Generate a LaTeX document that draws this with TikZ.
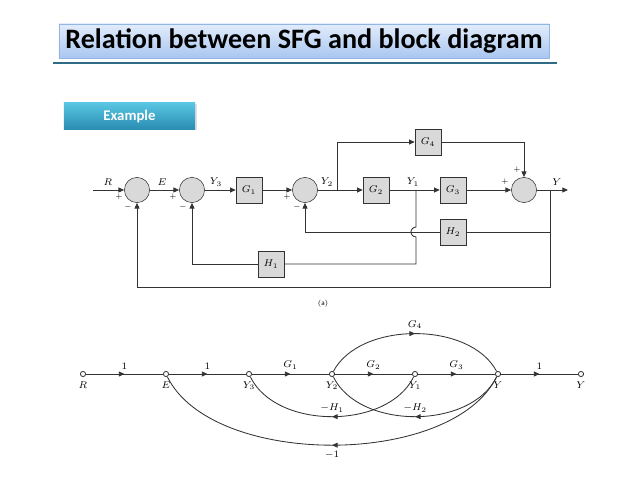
\documentclass[tikz,border=0pt]{standalone}
\usepackage{fontspec}
\setmainfont{Carlito}
\usepackage{xcolor}
\usetikzlibrary{arrows.meta, positioning, decorations.markings, shadows}

\definecolor{titletop}{HTML}{E2ECFB}
\definecolor{titlebot}{HTML}{A9C6F1}
\definecolor{titleedge}{HTML}{93B5E4}
\definecolor{rulecol}{HTML}{2E6C86}
\definecolor{extop}{HTML}{58C5E2}
\definecolor{exbot}{HTML}{2A8DB2}

\begin{document}
\begin{tikzpicture}[x=0.025cm, y=-0.025cm,
    titlebox/.style={draw=titleedge, top color=titletop, bottom color=titlebot,
                     minimum width=12.25cm, minimum height=0.85cm,
                     font=\fontsize{20}{23}\selectfont\bfseries},
    exbox/.style={top color=extop, bottom color=exbot, text=white,
                  minimum width=3.28cm, minimum height=0.65cm,
                  font=\fontsize{10.5}{12}\selectfont\bfseries,
                  drop shadow={opacity=0.25, shadow xshift=1pt, shadow yshift=-1pt}},
    blk/.style={draw=black!80, fill=black!15, minimum size=0.65cm,
                inner sep=0pt, font=\scriptsize},
    sumj/.style={circle, draw=black!80, fill=black!15, minimum size=0.63cm, inner sep=0pt},
    wire/.style={draw=black!80, line width=0.6pt},
    sig/.style={wire, -{Triangle[length=4pt,width=3.5pt]}},
    lab/.style={font=\scriptsize, inner sep=1pt},
    sgn/.style={font=\tiny, inner sep=0pt},
    sfgn/.style={circle, draw=black!80, fill=white, line width=0.6pt,
                 minimum size=0.13cm, inner sep=0pt},
    br/.style={wire, postaction={decorate},
               decoration={markings, mark=at position 0.5 with
                 {\arrow{Triangle[length=4pt,width=3.5pt]}}}}
  ]
    \useasboundingbox (0,0) rectangle (638,478);

    % heading
    \node[titlebox] (title) at (304,41) {Relation between SFG and block diagram};
    \draw[rulecol, line width=1.4pt] (53,63) -- (557,63);
    \node[exbox] (example) at (129.5,116) {Example};

    % block diagram
    \coordinate (in) at (93,190);
    \node[sumj] (s1) at (137,190) {};
    \node[sumj] (s2) at (192,190) {};
    \node[blk]  (g1) at (249,190) {$G_1$};
    \node[sumj] (s3) at (305,190) {};
    \coordinate (y2b) at (337,190);
    \node[blk]  (g2) at (376,190) {$G_2$};
    \coordinate (y1b) at (416,190);
    \node[blk]  (g3) at (453,190) {$G_3$};
    \node[blk]  (g4) at (428,142) {$G_4$};
    \node[sumj] (s4) at (524,190) {};
    \coordinate (yb) at (550,190);
    \coordinate (out) at (568,190);
    \node[blk]  (h2) at (453,232) {$H_2$};
    \node[blk]  (h1) at (271,264) {$H_1$};
    \coordinate (ybot) at (550,287);
    \coordinate (hopa) at (416,227);
    \coordinate (hopb) at (416,237);

    \draw[sig] (in) -- (s1);
    \draw[sig] (s1) -- (s2);
    \draw[sig] (s2) -- (g1);
    \draw[sig] (g1) -- (s3);
    \draw[sig] (s3) -- (g2);
    \draw[sig] (g2) -- (g3);
    \draw[sig] (g3) -- (s4);
    \draw[sig] (s4) -- (out);
    \draw[sig] (y2b) |- (g4);
    \draw[sig] (g4) -| (s4);
    \draw[wire] (yb) |- (h2);
    \draw[sig] (h2) -| (s3);
    \draw[wire] (y1b) -- (hopa) .. controls (409,228) and (409,236) .. (hopb) |- (h1);
    \draw[sig] (h1) -| (s2);
    \draw[sig] (yb) -- (ybot) -| (s1);

    \node[lab] (lR)  at (108,182) {$R$};
    \node[lab] (lE)  at (162,182) {$E$};
    \node[lab] (lY3) at (216,182) {$Y_3$};
    \node[lab] (lY2) at (327,182) {$Y_2$};
    \node[lab] (lY1) at (413,182) {$Y_1$};
    \node[lab] (lY)  at (557,182) {$Y$};

    \node[sgn] at (119,197) {$+$};
    \node[sgn] at (128,207) {$-$};
    \node[sgn] at (173,197) {$+$};
    \node[sgn] at (183,207) {$-$};
    \node[sgn] at (287,197) {$+$};
    \node[sgn] at (297,207) {$-$};
    \node[sgn] at (505,182) {$+$};
    \node[sgn] at (517,170) {$+$};

    \node[lab, font=\tiny] (capa) at (323,304) {$(\mathrm{a})$};

    % signal flow graph
    \node[sfgn] (nR)  at (83,374) {};
    \node[sfgn] (nE)  at (166,374) {};
    \node[sfgn] (nY3) at (249,374) {};
    \node[sfgn] (nY2) at (332,374) {};
    \node[sfgn] (nY1) at (415,374) {};
    \node[sfgn] (nY)  at (498,374) {};
    \node[sfgn] (nYo) at (581,374) {};

    \node[lab, below=2pt of nR]  {$R$};
    \node[lab, below=2pt of nE]  {$E$};
    \node[lab, below=2pt of nY3] {$Y_3$};
    \node[lab, below=2pt of nY2] {$Y_2$};
    \node[lab, below=2pt of nY1] {$Y_1$};
    \node[lab, below=2pt of nY]  {$Y$};
    \node[lab, below=2pt of nYo] {$Y$};

    \draw[br] (nR)  -- node[lab, above=2pt] {$1$} (nE);
    \draw[br] (nE)  -- node[lab, above=2pt] {$1$} (nY3);
    \draw[br] (nY3) -- node[lab, above=2pt] {$G_1$} (nY2);
    \draw[br] (nY2) -- node[lab, above=2pt] {$G_2$} (nY1);
    \draw[br] (nY1) -- node[lab, above=2pt] {$G_3$} (nY);
    \draw[br] (nY)  -- node[lab, above=2pt] {$1$} (nYo);
    \draw[br] (nY2) .. controls (360,321) and (470,321) .. node[lab, above=2pt] {$G_4$} (nY);
    \draw[br] (nY1) .. controls (388,430) and (276,430) .. node[lab, above=2pt] {$-H_1$} (nY3);
    \draw[br] (nY)  .. controls (471,430) and (359,430) .. node[lab, above=2pt] {$-H_2$} (nY2);
    \draw[br] (nY)  .. controls (452,468) and (212,468) .. node[lab, below=3pt] {$-1$} (nE);
  \end{tikzpicture}
\end{document}
